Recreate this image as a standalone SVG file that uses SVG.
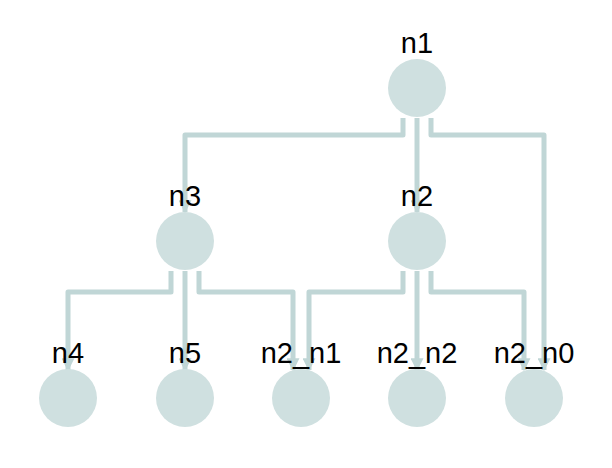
<svg xmlns="http://www.w3.org/2000/svg" width="612" height="468" viewBox="0 0 612 468">
<defs><style>
.n{fill:#cfe0e0}
.e{fill:none;stroke:#c0d6d6;stroke-width:5;stroke-linejoin:round}
text{font-family:"Liberation Sans",Arial,sans-serif;font-size:29px;fill:#000;text-anchor:middle}
</style>
<marker id="a" viewBox="0 0 10 10" refX="9" refY="5" markerWidth="2.6" markerHeight="2.6" orient="auto" markerUnits="strokeWidth"><path d="M0,0L10,5L0,10z" fill="#c0d6d6"/></marker>
</defs>
<rect width="612" height="468" fill="#fff"/>
<g id="edges" marker-end="url(#a)">
<path class="e" d="M403,118V135H185V212"/>
<path class="e" d="M417,118V212"/>
<path class="e" d="M431,118V135H544V370"/>
<path class="e" d="M171,271V292H68V370"/>
<path class="e" d="M185,271V370"/>
<path class="e" d="M199,271V292H293V370"/>
<path class="e" d="M403,271V292H309V370"/>
<path class="e" d="M417,271V370"/>
<path class="e" d="M431,271V292H524V370"/>
</g>
<g id="n1"><circle class="n" cx="417" cy="88" r="29"/><text x="417" y="53">n1</text></g>
<g id="n3"><circle class="n" cx="185" cy="241" r="29"/><text x="185" y="206">n3</text></g>
<g id="n2"><circle class="n" cx="417" cy="241" r="29"/><text x="417" y="206">n2</text></g>
<g id="n4"><circle class="n" cx="68" cy="398" r="29"/><text x="68" y="363">n4</text></g>
<g id="n5"><circle class="n" cx="185" cy="398" r="29"/><text x="185" y="363">n5</text></g>
<g id="n2_n1"><circle class="n" cx="301" cy="398" r="29"/><text x="301" y="363">n2_n1</text></g>
<g id="n2_n2"><circle class="n" cx="417" cy="398" r="29"/><text x="417" y="363">n2_n2</text></g>
<g id="n2_n0"><circle class="n" cx="534" cy="398" r="29"/><text x="534" y="363">n2_n0</text></g>
</svg>
